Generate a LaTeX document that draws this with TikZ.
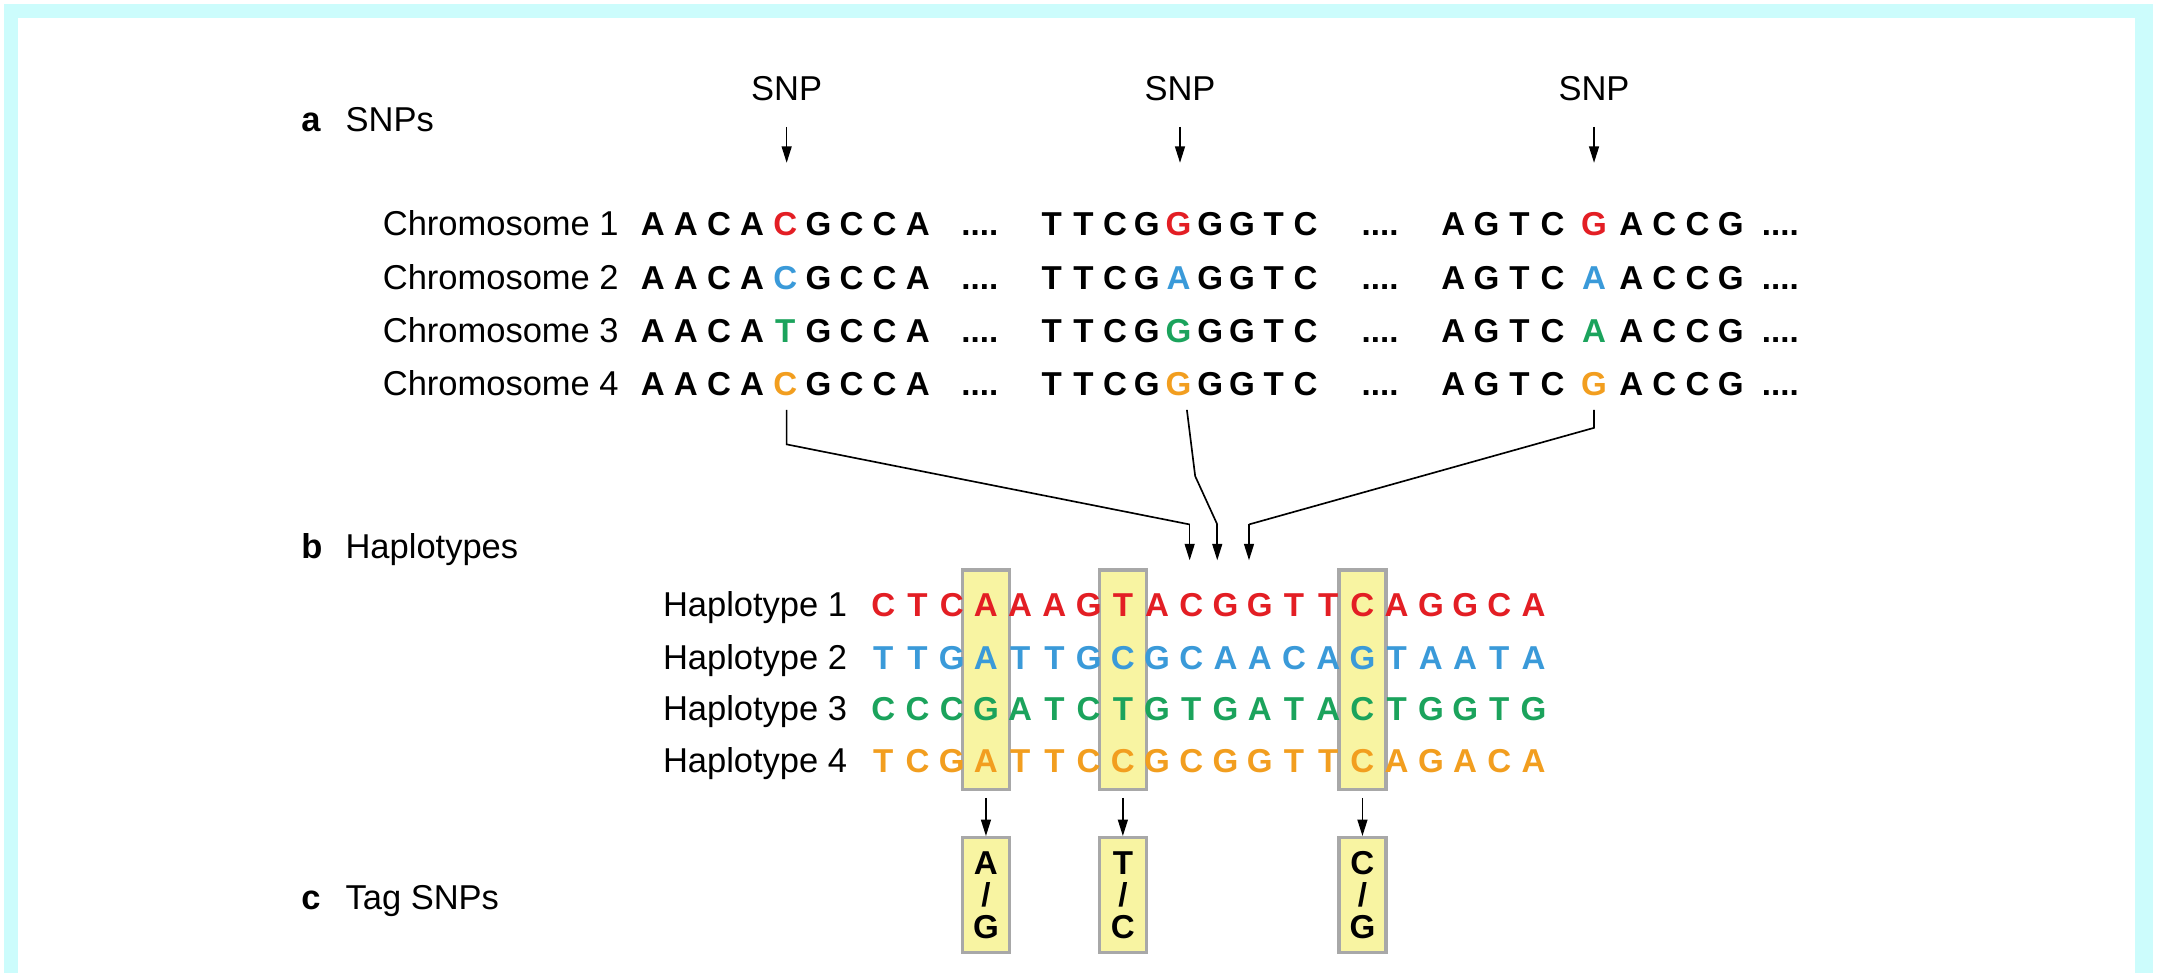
\documentclass[tikz,border=0pt]{standalone}
\usepackage{fontspec}
\setmainfont{Liberation Sans}
\usetikzlibrary{arrows.meta}
\definecolor{cred}{HTML}{E31E24}
\definecolor{cblue}{HTML}{3A9AD9}
\definecolor{cgreen}{HTML}{1BA35C}
\definecolor{corange}{HTML}{F29E1F}
\definecolor{hyel}{HTML}{F8F4A2}
\definecolor{hgray}{HTML}{A8A8A8}
\definecolor{fcyan}{HTML}{CCFCFC}
\tikzset{
  x=0.5pt,y=-0.5pt,
  lbl/.style={anchor=base west,inner sep=0,font=\fontsize{12.5}{14}\selectfont},
  let/.style={anchor=base,inner sep=0,font=\bfseries\fontsize{12}{14}\selectfont},
  hbox/.style={draw=hgray,line width=1.2pt,fill=hyel,minimum width=17pt,inner sep=0},
  arr/.style={-{Triangle[length=6pt,width=3.6pt]},line width=0.6pt},
  con/.style={line width=0.6pt}
}
\begin{document}
\begin{tikzpicture}
\useasboundingbox (0,0) rectangle (1568,705);
\fill[fcyan] (3,3) rectangle (1560,705);
\fill[white] (13,13) rectangle (1547,705);
% a
\node[lbl,font=\bfseries\fontsize{12.5}{14}\selectfont] (la) at (218,95) {a};
\node[lbl] (lsnps) at (250,95) {SNPs};
\foreach \x/\n in {570/1,855/2,1155/3}{
  \node[anchor=base,inner sep=0,font=\fontsize{12.5}{14}\selectfont] (snp\n) at (\x,73) {SNP};
  \coordinate (snpe\n) at (\x,118);
  \draw[arr] (\x,92) -- (snpe\n);
}
% chromosomes
\foreach \r/\y/\c/\m/\n/\o in {1/171/cred/C/G/G,2/209.5/cblue/C/A/A,3/248/cgreen/T/G/A,4/286.5/corange/C/G/G}{
  \node[lbl] (chr\r) at (277,\y) {Chromosome \r};
  \foreach \l [count=\i] in {A,A,C,A}
    \node[let] (c\r a\i) at (473+24*\i-24,\y) {\l};
  \node[let,text=\c] (c\r s1) at (569,\y) {\m};
  \foreach \l [count=\i] in {G,C,C,A}
    \node[let] (c\r b\i) at (593+24*\i-24,\y) {\l};
  \node[let] (c\r d1) at (710,\y) {....};
  \foreach \l [count=\i] in {T,T,C,G}
    \node[let] (c\r e\i) at (762+23*\i-23,\y) {\l};
  \node[let,text=\c] (c\r s2) at (854,\y) {\n};
  \foreach \l [count=\i] in {G,G,T,C}
    \node[let] (c\r f\i) at (877+23*\i-23,\y) {\l};
  \node[let] (c\r d2) at (1000,\y) {....};
  \foreach \l [count=\i] in {A,G,T,C}
    \node[let] (c\r g\i) at (1053+24*\i-24,\y) {\l};
  \node[let,text=\c] (c\r s3) at (1155,\y) {\o};
  \foreach \l [count=\i] in {A,C,C,G}
    \node[let] (c\r h\i) at (1182+24*\i-24,\y) {\l};
  \node[let] (c\r d3) at (1290,\y) {....};
}
% connectors
\coordinate (k1) at (570,322); \coordinate (k1b) at (862,380); \coordinate (t1) at (862,406);
\coordinate (k2) at (860,297); \coordinate (k2a) at (866,345); \coordinate (k2b) at (882,380); \coordinate (t2) at (882,406);
\coordinate (k3) at (1155,310); \coordinate (k3b) at (905,380); \coordinate (t3) at (905,406);
\draw[con] (570,297) -- (k1) -- (k1b); \draw[arr] (k1b) -- (t1);
\draw[con] (k2) -- (k2a) -- (k2b); \draw[arr] (k2b) -- (t2);
\draw[con] (1155,297) -- (k3) -- (k3b); \draw[arr] (k3b) -- (t3);
% b
\node[lbl,font=\bfseries\fontsize{12.5}{14}\selectfont] (lb) at (218,405) {b};
\node[lbl] (lhap) at (250,405) {Haplotypes};
% highlight boxes
\foreach \k/\x in {1/714.4,2/813.6,3/987.2}{
  \node[hbox,minimum height=79.5pt] (box\k) at (\x,492.5) {};
}
\foreach \r/\y/\c/\s in {1/447/cred/{C,T,C,A,A,A,G,T,A,C,G,G,T,T,C,A,G,G,C,A},
                        2/485/cblue/{T,T,G,A,T,T,G,C,G,C,A,A,C,A,G,T,A,A,T,A},
                        3/522/cgreen/{C,C,C,G,A,T,C,T,G,T,G,A,T,A,C,T,G,G,T,G},
                        4/560/corange/{T,C,G,A,T,T,C,C,G,C,G,G,T,T,C,A,G,A,C,A}}{
  \node[lbl] (hap\r) at (480,\y) {Haplotype \r};
  \foreach \l [count=\i] in \s
    \node[let,text=\c] (h\r x\i) at (640+24.8*\i-24.8,\y) {\l};
}
% tag SNPs
\node[lbl,font=\bfseries\fontsize{12.5}{14}\selectfont] (lc) at (218,659) {c};
\node[lbl] (ltag) at (250,659) {Tag SNPs};
\foreach \k/\x/\a/\b in {1/714.4/A/G,2/813.6/T/C,3/987.2/C/G}{
  \node[hbox,minimum height=41.5pt,align=center,font=\bfseries\fontsize{12}{11.6}\selectfont] (tag\k) at (\x,648.5) {\a\\/\\\b};
  \draw[arr] (box\k.south) ++(0,5) -- (tag\k.north);
}
\end{tikzpicture}
\end{document}
